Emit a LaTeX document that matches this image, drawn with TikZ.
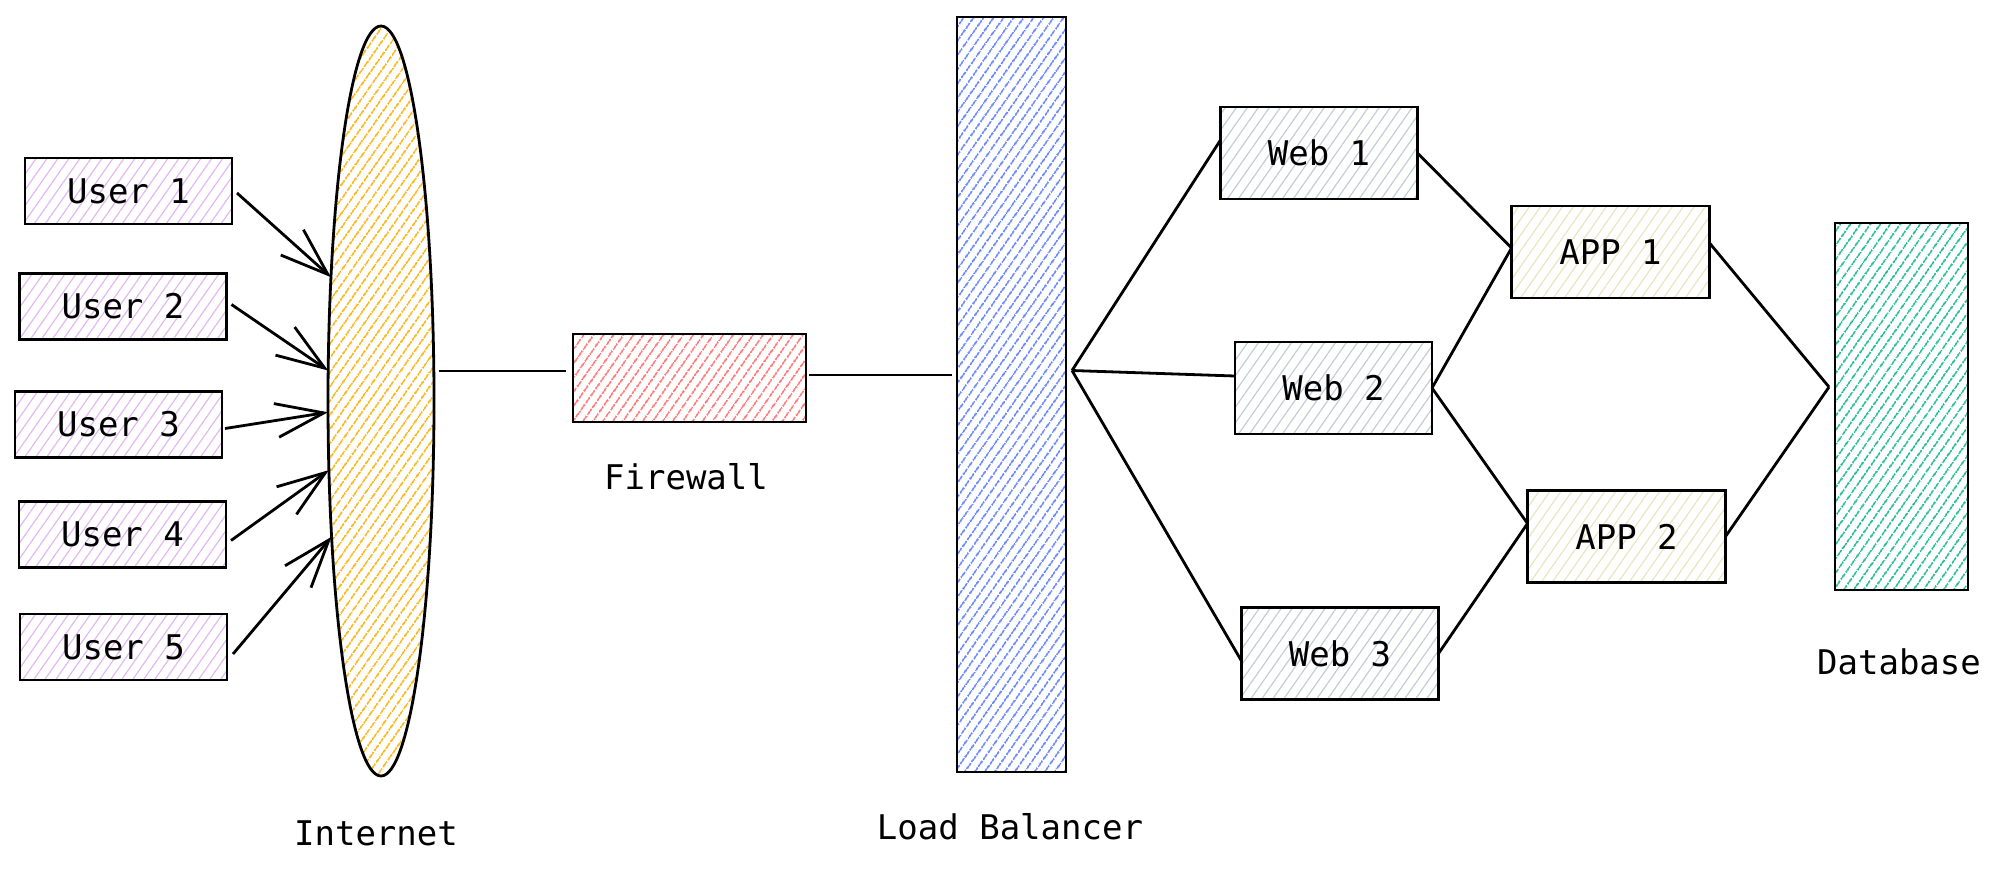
\documentclass[tikz,border=0pt]{standalone}
\usepackage{fontspec}
\setmonofont{DejaVu Sans Mono}
\usetikzlibrary{shapes.geometric,patterns.meta,arrows.meta}
\definecolor{userc}{HTML}{E2B8F2}
\definecolor{inetc}{HTML}{FAB005}
\definecolor{fwc}{HTML}{FF6B6B}
\definecolor{lbc}{HTML}{5C7CFA}
\definecolor{webc}{HTML}{C5CCD4}
\definecolor{appc}{HTML}{E8E6BE}
\definecolor{dbc}{HTML}{12B886}
\begin{document}
\begin{tikzpicture}[x=0.5pt,y=-0.5pt,
  font=\ttfamily\fontsize{17}{20}\selectfont,
  box/.style={draw=black, line width=1.4pt, rectangle, inner sep=0pt, outer sep=0pt},
  hatch/.style={pattern={Lines[angle=55,distance=4pt,line width=0.9pt]}, pattern color=#1},
  lighthatch/.style={pattern={Lines[angle=55,distance=4.5pt,line width=0.6pt]}, pattern color=#1},
  userbox/.style={box, lighthatch=userc, minimum width=103.5pt, minimum height=33pt},
  webbox/.style={box, lighthatch=webc, minimum width=98.5pt, minimum height=46pt},
  appbox/.style={box, lighthatch=appc, minimum width=99pt, minimum height=46pt},
  lbl/.style={inner sep=0pt},
  conn/.style={draw=black, line width=1.4pt},
  arr/.style={conn, -{Straight Barb[length=24pt,width=17pt,line width=1.4pt]}}
]
\useasboundingbox (0,0) rectangle (2000,869);
% users
\node[userbox] (u1) at (128.5,191) {User 1};
\node[userbox] (u2) at (123,306.5) {User 2};
\node[userbox] (u3) at (118.5,424.5) {User 3};
\node[userbox] (u4) at (122.5,534.5) {User 4};
\node[userbox] (u5) at (123.5,647) {User 5};
% internet
\node[ellipse, draw=black, line width=1.4pt, hatch=inetc, minimum width=53pt, minimum height=375pt, inner sep=0pt, outer sep=0pt] (inet) at (381,401) {};
\node[lbl] (linet) at (376,833) {Internet};
% firewall
\node[box, hatch=fwc, minimum width=116.5pt, minimum height=44pt] (fw) at (689.5,378) {};
\node[lbl] (lfw) at (686,477) {Firewall};
% load balancer
\node[box, hatch=lbc, minimum width=54.5pt, minimum height=377.5pt] (lb) at (1011.5,394.5) {};
\node[lbl] (llb) at (1010,827) {Load Balancer};
% web
\node[webbox] (w1) at (1319,153) {Web 1};
\node[webbox] (w2) at (1333.5,388) {Web 2};
\node[webbox] (w3) at (1340,653.5) {Web 3};
% app
\node[appbox] (a1) at (1610.5,252) {APP 1};
\node[appbox] (a2) at (1626.5,536.5) {APP 2};
% database
\node[box, hatch=dbc, minimum width=66.5pt, minimum height=183.5pt] (db) at (1901.5,406.5) {};
\node[lbl] (ldb) at (1899,662) {Database};
% arrows users -> internet
\draw[arr] ([xshift=2.5pt,yshift=-1pt]u1.east) -- (inet.112);
\draw[arr] ([xshift=2.5pt,yshift=1pt]u2.east) -- (inet.150);
\draw[arr] ([xshift=1.5pt,yshift=-2pt]u3.east) -- (inet.192);
\draw[arr] ([xshift=2.5pt,yshift=-3pt]u4.east) -- (inet.233);
\draw[arr] ([xshift=3pt,yshift=-3.5pt]u5.east) -- (inet.250);
% chain
\coordinate (fwin) at ([yshift=3.5pt]fw.west);
\draw[conn, shorten <=2.5pt, shorten >=3.5pt] (inet.east |- fwin) -- (fwin);
\coordinate (fwout) at ([yshift=1.5pt]fw.east);
\draw[conn, shorten <=1.5pt, shorten >=2.5pt] (fwout) -- (lb.west |- fwout);
\coordinate (lbp) at ([xshift=3pt,yshift=12pt]lb.east);
\draw[conn] (lbp) -- ([yshift=6.5pt]w1.west);
\draw[conn] (lbp) -- ([yshift=6pt]w2.west);
\draw[conn] (lbp) -- ([yshift=-3.75pt]w3.west);
\draw[conn] (w1.east) -- ([yshift=2pt]a1.west);
\draw[conn] (w2.east) -- ([yshift=2pt]a1.west);
\draw[conn] (w2.east) -- ([yshift=6.5pt]a2.west);
\draw[conn] (w3.east) -- ([yshift=6.5pt]a2.west);
\coordinate (dbp) at ([xshift=-3pt,yshift=9.75pt]db.west);
\draw[conn] ([yshift=4.5pt]a1.east) -- (dbp);
\draw[conn] (a2.east) -- (dbp);
\end{tikzpicture}
\end{document}
